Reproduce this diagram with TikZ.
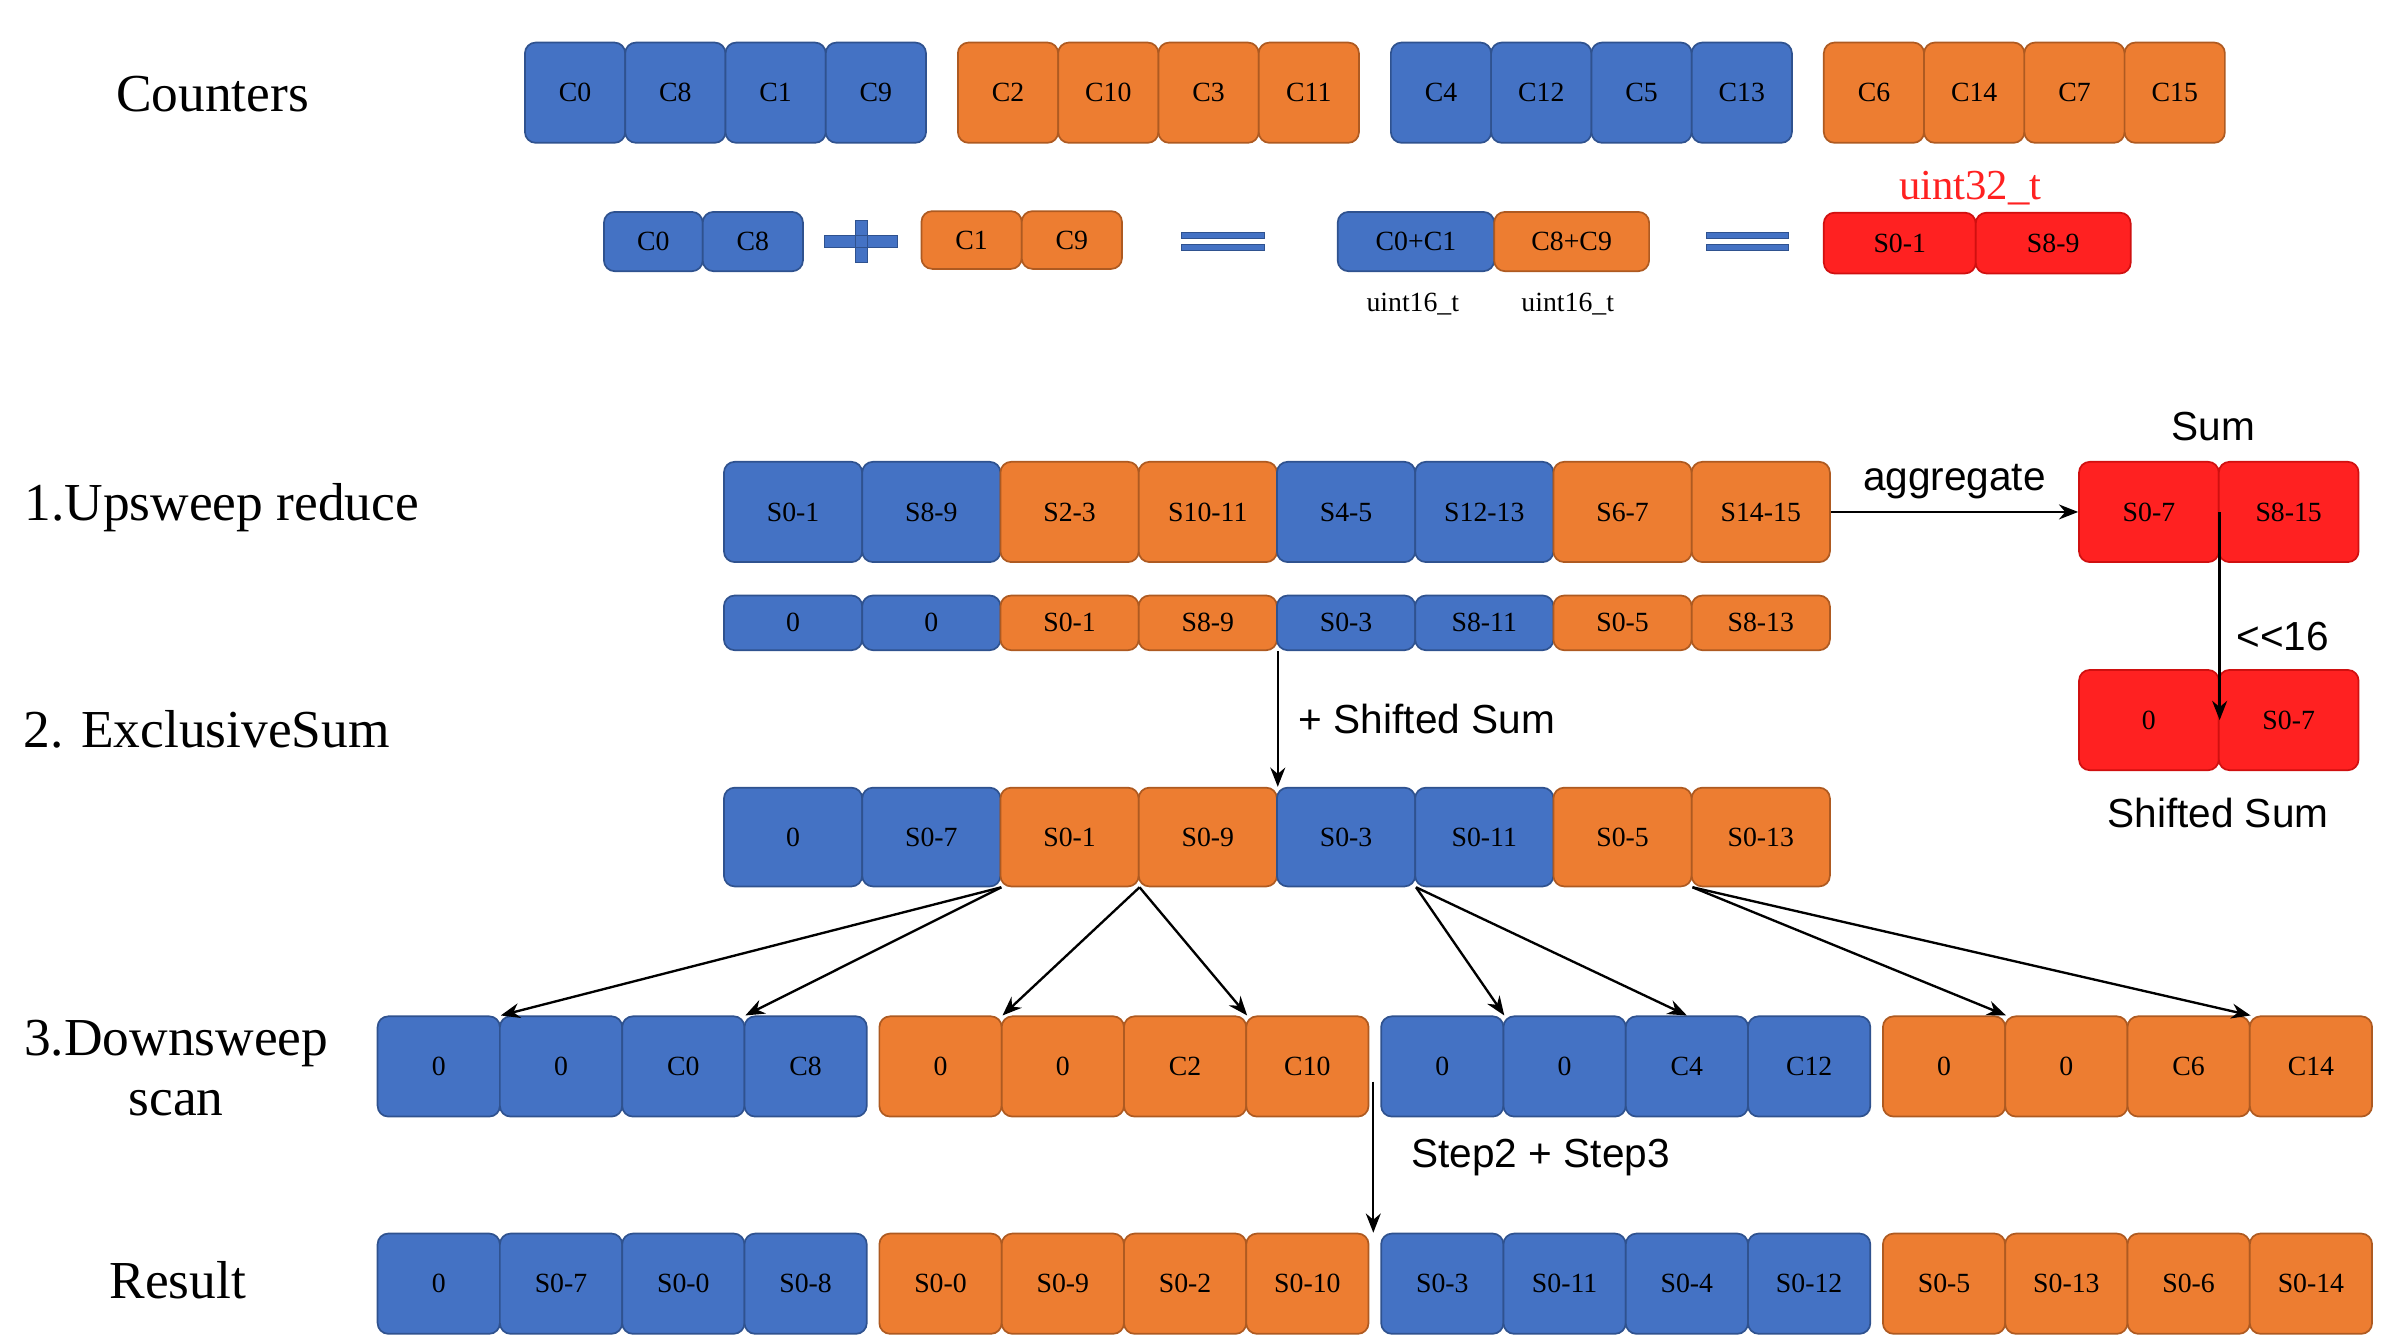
\documentclass[tikz,border=0pt]{standalone}
\usepackage{fontspec}
\setmainfont{Liberation Serif}
\newfontfamily\sansf{Liberation Sans}
\usetikzlibrary{arrows.meta}
\definecolor{bl}{HTML}{4472C4}\definecolor{blb}{HTML}{2F528F}
\definecolor{or}{HTML}{ED7D31}\definecolor{orb}{HTML}{AE5A21}
\definecolor{rd}{HTML}{FF2121}\definecolor{rdb}{HTML}{D01010}
\tikzset{
 box/.style={draw=#1b,fill=#1,rounded corners=5pt,line width=0.8pt,inner sep=0pt,font=\fontsize{13}{13}\selectfont,anchor=west},
 lbl/.style={font=\fontsize{25}{28}\selectfont,align=center},
 slbl/.style={font=\sansf\fontsize{19}{22}\selectfont},
 arr/.style={-{Stealth[length=9pt,width=7pt]},line width=1.1pt},
}
\begin{document}
\begin{tikzpicture}[x=0.025cm,y=-0.025cm]
\useasboundingbox (0,0) rectangle (1568,884);
% Counters
\node[lbl] (lc) at (140,62) {Counters};
\foreach \t/\c [count=\i] in {C0/bl,C8/bl,C1/bl,C9/bl,C2/or,C10/or,C3/or,C11/or,C4/bl,C12/bl,C5/bl,C13/bl,C6/or,C14/or,C7/or,C15/or}{
 \pgfmathsetmacro\x{345+mod(\i-1,4)*66+int((\i-1)/4)*285}
 \node[box=\c,minimum width=66*0.025cm,minimum height=66*0.025cm] (c\i) at (\x,61) {\t};}
% row 2
\node[box=bl,minimum width=65*0.025cm,minimum height=39*0.025cm] (a1) at (397,159) {C0};
\node[box=bl,minimum width=66*0.025cm,minimum height=39*0.025cm] (a2) at (462,159) {C8};
\node[box=or,minimum width=66*0.025cm,minimum height=38*0.025cm] (a3) at (606,158) {C1};
\node[box=or,minimum width=66*0.025cm,minimum height=38*0.025cm] (a4) at (672,158) {C9};
\node[box=bl,minimum width=103*0.025cm,minimum height=39*0.025cm] (a5) at (880,159) {C0+C1};
\node[box=or,minimum width=102*0.025cm,minimum height=39*0.025cm] (a6) at (983,159) {C8+C9};
\node[box=rd,minimum width=100*0.025cm,minimum height=40*0.025cm] (a7) at (1200,160) {S0-1};
\node[box=rd,minimum width=102*0.025cm,minimum height=40*0.025cm] (a8) at (1300,160) {S8-9};
\node[font=\fontsize{13}{13}\selectfont] (u1) at (930,200) {uint16\_t};
\node[font=\fontsize{13}{13}\selectfont] (u2) at (1032,200) {uint16\_t};
\node[text=rd,font=\fontsize{20}{20}\selectfont] (u3) at (1297,124) {uint32\_t};
\fill[bl,draw=blb] (543,155) rectangle (591,163) (563,145) rectangle (571,173);
\fill[bl,draw=blb] (778,153) rectangle (832,157) (778,161) rectangle (832,165);
\fill[bl,draw=blb] (1123,153) rectangle (1177,157) (1123,161) rectangle (1177,165);
% upsweep
\node[lbl] (l1) at (146,334) {1.Upsweep reduce};
\foreach \t/\c [count=\i] in {S0-1/bl,S8-9/bl,S2-3/or,S10-11/or,S4-5/bl,S12-13/bl,S6-7/or,S14-15/or}{
 \node[box=\c,minimum width=91*0.025cm,minimum height=66*0.025cm] (p\i) at (476+\i*91-91,337) {\t};}
\foreach \t/\c [count=\i] in {0/bl,0/bl,S0-1/or,S8-9/or,S0-3/bl,S8-11/bl,S0-5/or,S8-13/or}{
 \node[box=\c,minimum width=91*0.025cm,minimum height=36*0.025cm] (q\i) at (476+\i*91-91,410) {\t};}
\node[box=rd,minimum width=92*0.025cm,minimum height=66*0.025cm] (s1) at (1368,337) {S0-7};
\node[box=rd,minimum width=92*0.025cm,minimum height=66*0.025cm] (s2) at (1460,337) {S8-15};
\node[box=rd,minimum width=92*0.025cm,minimum height=66*0.025cm] (t1) at (1368,474) {0};
\node[box=rd,minimum width=92*0.025cm,minimum height=66*0.025cm] (t2) at (1460,474) {S0-7};
\node[slbl] (ls) at (1457,281) {Sum};
\node[slbl] (lss) at (1460,535) {Shifted Sum};
\draw[arr] (p8.east) -- node[slbl,above=2pt] {aggregate} (s1.west);
\draw[arr] (s1.east) -- node[slbl,right=4pt,pos=0.6] {<<16} (t1.east);
% exclusive
\node[lbl] (l2) at (136,480) {2. ExclusiveSum};
\foreach \t/\c [count=\i] in {0/bl,S0-7/bl,S0-1/or,S0-9/or,S0-3/bl,S0-11/bl,S0-5/or,S0-13/or}{
 \node[box=\c,minimum width=91*0.025cm,minimum height=65*0.025cm] (e\i) at (476+\i*91-91,551) {\t};}
\draw[arr] (q4.south east) -- node[slbl,right=6pt] {+ Shifted Sum} (e4.north east);
% downsweep
\node[lbl] (l3) at (116,703) {3.Downsweep\\scan};
\foreach \t/\c [count=\i] in {0/bl,0/bl,C0/bl,C8/bl,0/or,0/or,C2/or,C10/or,0/bl,0/bl,C4/bl,C12/bl,0/or,0/or,C6/or,C14/or}{
 \pgfmathsetmacro\x{248+mod(\i-1,4)*80.5+int((\i-1)/4)*330.3}
 \node[box=\c,minimum width=80.5*0.025cm,minimum height=66*0.025cm] (d\i) at (\x,702) {\t};}
\node[lbl] (l4) at (117,843) {Result};
\foreach \t/\c [count=\i] in {0/bl,S0-7/bl,S0-0/bl,S0-8/bl,S0-0/or,S0-9/or,S0-2/or,S0-10/or,S0-3/bl,S0-11/bl,S0-4/bl,S0-12/bl,S0-5/or,S0-13/or,S0-6/or,S0-14/or}{
 \pgfmathsetmacro\x{248+mod(\i-1,4)*80.5+int((\i-1)/4)*330.3}
 \node[box=\c,minimum width=80.5*0.025cm,minimum height=66*0.025cm] (r\i) at (\x,845) {\t};}
\draw[arr] (e2.south east) -- (d1.north east);
\draw[arr] (e2.south east) -- (d3.north east);
\draw[arr] (e3.south east) -- (d5.north east);
\draw[arr] (e3.south east) -- (d7.north east);
\draw[arr] (e5.south east) -- (d9.north east);
\draw[arr] (e5.south east) -- (d11.north);
\draw[arr] (e7.south east) -- (d13.north east);
\draw[arr] (e7.south east) -- (d15.north east);
\coordinate (st) at (904,712);
\draw[arr] (st) -- node[slbl,right=14pt] {Step2 + Step3} (st|-r8.north);
\end{tikzpicture}
\end{document}
